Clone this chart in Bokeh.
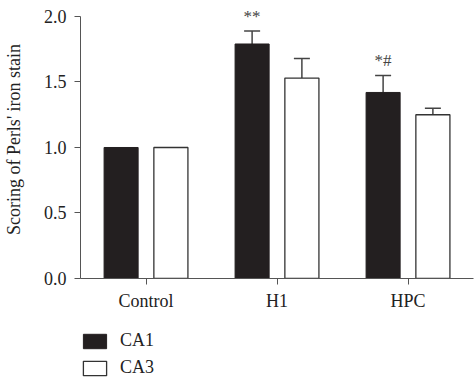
from bokeh.plotting import figure
from bokeh.models import (ColumnDataSource, FactorRange, Range1d, Whisker, TeeHead,
                          Legend, LegendItem, LabelSet, FixedTicker, NumeralTickFormatter)
from bokeh.layouts import column
from bokeh.transform import dodge
from bokeh.embed import file_html
from bokeh.resources import INLINE

groups = ["Control", "H1", "HPC"]
ca1 = [1.00, 1.79, 1.42]
ca1_err = [0.00, 0.10, 0.13]
ca3 = [1.00, 1.53, 1.25]
ca3_err = [0.00, 0.15, 0.05]
ca1_marks = ["", "**", "*#"]
series_names = ["CA1", "CA3"]
y_ticks = [0.0, 0.5, 1.0, 1.5, 2.0]

FONT = "Liberation Serif"
DARK = "#231f20"
AXC = "#555555"
TXT = "#222222"

src = ColumnDataSource(dict(g=groups, ca1=ca1, ca3=ca3, mark=ca1_marks,
                            ca1_up=[v + e for v, e in zip(ca1, ca1_err)]))


def err_source(vals, errs):
    keep = [i for i, e in enumerate(errs) if e > 0]
    return ColumnDataSource(dict(g=[groups[i] for i in keep],
                                 lo=[vals[i] for i in keep],
                                 hi=[vals[i] + errs[i] for i in keep]))


p = figure(x_range=FactorRange(factors=groups, range_padding=0),
           y_range=Range1d(0, 2.122),
           width=474, height=315, output_backend="svg", toolbar_location=None,
           min_border_left=80, min_border_right=1, min_border_top=0, min_border_bottom=37)

off = 0.19
bw = 0.26
style1 = dict(fill_color=DARK, line_color=DARK, line_width=1)
style3 = dict(fill_color="white", line_color="#333333", line_width=1.3)
p.vbar(x=dodge("g", -off, range=p.x_range), top="ca1", width=bw, source=src, **style1)
p.vbar(x=dodge("g", off, range=p.x_range), top="ca3", width=bw, source=src, **style3)

for vals, errs, d in ((ca1, ca1_err, -off), (ca3, ca3_err, off)):
    w = Whisker(source=err_source(vals, errs), base=dodge("g", d, range=p.x_range),
                lower="lo", upper="hi", line_color="#444444", line_width=1.5,
                upper_head=TeeHead(size=16, line_color="#444444", line_width=1.5),
                lower_head=None)
    p.add_layout(w)

labels = LabelSet(x="g", y="ca1_up", text="mark", source=src, x_offset=-25, y_offset=9,
                  text_align="center", text_baseline="alphabetic",
                  text_font=FONT, text_font_size="17px", text_color="#444444")
p.add_layout(labels)

p.xgrid.visible = False
p.ygrid.visible = False
p.outline_line_color = None

for ax in (p.xaxis[0], p.yaxis[0]):
    ax.axis_line_color = AXC
    ax.major_tick_line_color = AXC
    ax.major_tick_in = 0
    ax.major_tick_out = 6
    ax.minor_tick_line_color = None
    ax.major_label_text_font = FONT
    ax.major_label_text_font_size = "18px"
    ax.major_label_text_color = TXT

p.xaxis.major_label_standoff = 6
p.yaxis.ticker = FixedTicker(ticks=y_ticks)
p.yaxis.bounds = (0, 2.0)
p.yaxis.formatter = NumeralTickFormatter(format="0.0")
p.yaxis.major_label_standoff = 8
p.yaxis.axis_label = "Scoring of Perls' iron stain"
p.yaxis.axis_label_text_font = FONT
p.yaxis.axis_label_text_font_size = "18px"
p.yaxis.axis_label_text_font_style = "normal"
p.yaxis.axis_label_text_color = TXT
p.yaxis.axis_label_standoff = 17

# legend panel below the chart (its frame is aligned with the chart frame)
q = figure(width=474, height=64, output_backend="svg", toolbar_location=None,
           x_range=FactorRange(factors=groups), y_range=Range1d(0, 1),
           x_axis_type=None, y_axis_type=None,
           min_border_left=80, min_border_right=1, min_border_top=0, min_border_bottom=0)
q.outline_line_color = None
q.xgrid.visible = False
q.ygrid.visible = False
k1 = q.vbar(x="g", top="ca1", width=bw, source=src, visible=False, **style1)
k3 = q.vbar(x="g", top="ca3", width=bw, source=src, visible=False, **style3)
legend = Legend(items=[LegendItem(label=series_names[0], renderers=[k1]),
                       LegendItem(label=series_names[1], renderers=[k3])],
                location=(0, 1), orientation="vertical",
                glyph_width=29, glyph_height=18, label_standoff=11, spacing=6,
                padding=0, margin=0, border_line_color=None, background_fill_alpha=0,
                inactive_fill_alpha=0,
                label_text_font=FONT, label_text_font_size="18px", label_text_color=TXT)
q.add_layout(legend, "center")

open("out.html", "w").write(file_html(column(p, q, spacing=0), INLINE))
